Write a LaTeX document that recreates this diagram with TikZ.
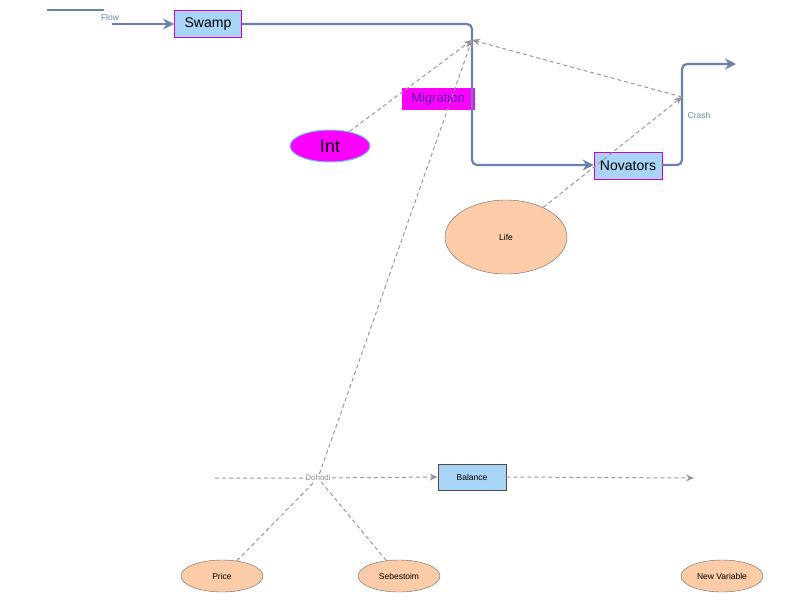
\documentclass[tikz,border=0pt]{standalone}
\usepackage{fontspec}
\setmainfont{Liberation Sans}
\usetikzlibrary{arrows.meta,shapes.geometric}
\definecolor{flowc}{HTML}{6A80B0}
\definecolor{lblue}{HTML}{A8D4F5}
\definecolor{mag}{HTML}{FF00FF}
\definecolor{peach}{HTML}{FCCCA8}
\definecolor{dashc}{HTML}{999999}
\tikzset{
  stock/.style={draw=mag!80!black,line width=0.8pt,fill=lblue,minimum width=67pt,minimum height=27pt,inner sep=0pt,font=\fontsize{14}{14}\selectfont},
  aux/.style={ellipse,draw=black!60,fill=peach,inner sep=0pt,font=\fontsize{8.5}{8.5}\selectfont},
  flow/.style={draw=flowc,line width=2.2pt,rounded corners=5pt},
  flowarr/.style={flow,-{Stealth[length=11pt,width=11pt]}},
  link/.style={draw=dashc,dashed,dash pattern=on 4pt off 3pt,line width=1pt,-{Stealth[length=8pt,width=7pt]}},
  linkn/.style={draw=dashc,dashed,dash pattern=on 4pt off 3pt,line width=1pt}
}
\begin{document}
\begin{tikzpicture}[x=1pt,y=-1pt]
\useasboundingbox (0,0) rectangle (800,600);
\node[stock] (swamp) at (208,24) {Swamp};
\node[stock,minimum width=68pt,minimum height=27pt] (nov) at (628,166) {Novators};
\node[draw=mag,fill=mag,minimum width=72pt,minimum height=21pt,inner sep=0pt,text=violet!70!blue,font=\fontsize{13}{13}\selectfont] (mig) at (438,99) {Migration};
\node[ellipse,draw=cyan!60,line width=1pt,fill=mag,minimum width=80pt,minimum height=32pt,inner sep=0pt,font=\fontsize{18}{18}\selectfont] (int) at (330,146) {Int};
\node[aux,minimum width=122pt,minimum height=74pt] (life) at (506,237) {Life};
\node[draw=black!70,fill=lblue,line width=0.8pt,minimum width=68pt,minimum height=26pt,inner sep=0pt,font=\fontsize{8.5}{8.5}\selectfont] (bal) at (472,477) {Balance};
\node[aux,minimum width=82pt,minimum height=32pt] (price) at (222,576) {Price};
\node[aux,minimum width=82pt,minimum height=32pt] (seb) at (399,576) {Sebestoim};
\node[aux,minimum width=82pt,minimum height=32pt] (newv) at (722,576) {New Variable};
\node[text=black!45,font=\fontsize{8}{8}\selectfont,inner sep=1pt] (doh) at (318,478) {Dohodi};
\node[text=flowc,font=\fontsize{8.5}{8.5}\selectfont,inner sep=1pt] (flowl) at (110,17) {Flow};
\node[text=flowc,font=\fontsize{8.5}{8.5}\selectfont,inner sep=1pt] (crash) at (699,115) {Crash};
\coordinate (f0) at (47,10);
\coordinate (f1) at (104,10);
\coordinate (f2) at (112,24);
\coordinate (mp) at (472,40);
\coordinate (cp) at (682,97);
\coordinate (outp) at (736,64);
\coordinate (dl) at (215,478);
\coordinate (dr) at (694,478);
\draw[flow] (f0) -- (f1);
\draw[flowarr] (f2) -- (swamp.west);
\draw[flowarr] (swamp.east) -- (472,24) -- (472,165) -- (nov.west |- 0,165);
\draw[flowarr] (nov.east |- 0,165) -- (682,165) -- (682,64) -- (outp);
\draw[link] (int) -- (mp);
\draw[link] (doh) -- (mp);
\draw[link] (cp) -- (mp);
\draw[link] (life) -- (cp);
\draw[link] (dl) -- (doh) -- (bal.west);
\draw[link] (bal.east) -- (dr);
\draw[linkn] (price) -- (doh);
\draw[linkn] (seb) -- (doh);
\end{tikzpicture}
\end{document}
